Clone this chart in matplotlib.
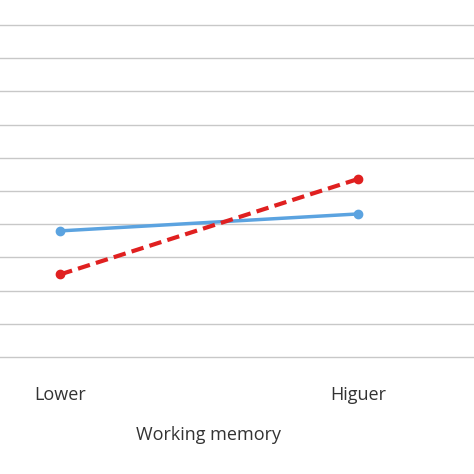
import matplotlib
matplotlib.use("Agg")
import matplotlib.pyplot as plt

categories = ["Lower", "Higuer"]
blue_vals = [3.8, 4.31]
red_vals = [2.49, 5.36]

fig = plt.figure(figsize=(4.74, 4.74), dpi=100)
ax = fig.add_axes([0, 0.243, 1, 0.708])
x = [0, 1]
ax.plot(x, blue_vals, color="#5BA3E0", lw=2.5, marker="o", ms=6, zorder=3)
ax.plot(x, red_vals, color="#E02020", lw=3, ls=(0, (3, 1.5)), marker="o", ms=6, zorder=3)
ax.set_xlim(-0.202, 1.390)
ax.set_ylim(-0.05, 10.05)
ax.set_yticks(range(11))
ax.yaxis.grid(True, color="#C8C8C8", lw=1)
ax.tick_params(left=False, labelleft=False, bottom=False)
ax.set_xticks(x)
ax.set_xticklabels(categories, fontsize=13, color="#333333", family="Open Sans")
ax.tick_params(axis="x", pad=16)
for s in ax.spines.values():
    s.set_visible(False)
ax.set_xlabel("Working memory", fontsize=13, color="#333333", family="Open Sans")
ax.xaxis.set_label_coords(0.44, -0.2)
fig.savefig("out.png", dpi=100)
